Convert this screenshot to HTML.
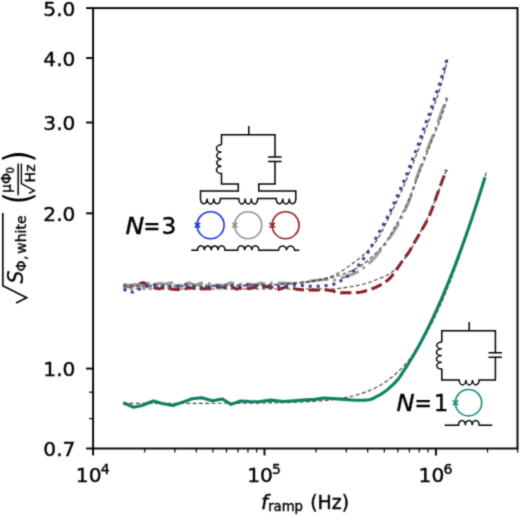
<!DOCTYPE html>
<html><head><meta charset="utf-8"><style>html,body{margin:0;padding:0;background:#fff;}svg{display:block;}</style></head>
<body><svg width="520" height="516" viewBox="0 0 520 516">
<defs><filter id="bl" filterUnits="userSpaceOnUse" x="0" y="0" width="520" height="516"><feConvolveMatrix order="3" kernelMatrix="1 4 1 4 16 4 1 4 1" divisor="36" edgeMode="duplicate"/></filter></defs>
<rect width="520" height="516" fill="#fff"/>
<g filter="url(#bl)">
<path d="M123.28,403.33 L126.31,403.33 L129.34,403.33 L132.37,403.33 L135.40,403.33 L138.43,403.33 L141.46,403.32 L144.48,403.32 L147.51,403.32 L150.54,403.32 L153.57,403.32 L156.60,403.32 L159.63,403.32 L162.66,403.32 L165.69,403.32 L168.72,403.32 L171.74,403.32 L174.77,403.31 L177.80,403.31 L180.83,403.31 L183.86,403.31 L186.89,403.31 L189.92,403.30 L192.95,403.30 L195.98,403.30 L199.00,403.29 L202.03,403.29 L205.06,403.28 L208.09,403.28 L211.12,403.27 L214.15,403.27 L217.18,403.26 L220.21,403.25 L223.24,403.24 L226.26,403.23 L229.29,403.22 L232.32,403.21 L235.35,403.20 L238.38,403.18 L241.41,403.17 L244.44,403.15 L247.47,403.13 L250.50,403.11 L253.52,403.08 L256.55,403.06 L259.58,403.03 L262.61,402.99 L265.64,402.96 L268.67,402.91 L271.70,402.87 L274.73,402.82 L277.76,402.76 L280.78,402.70 L283.81,402.63 L286.84,402.55 L289.87,402.47 L292.90,402.37 L295.93,402.27 L298.96,402.15 L301.99,402.02 L305.02,401.88 L308.04,401.72 L311.07,401.54 L314.10,401.35 L317.13,401.13 L320.16,400.89 L323.19,400.62 L326.22,400.33 L329.25,400.00 L332.28,399.64 L335.30,399.24 L338.33,398.80 L341.36,398.31 L344.39,397.77 L347.42,397.17 L350.45,396.51 L353.48,395.79 L356.51,394.98 L359.54,394.10 L362.56,393.13 L365.59,392.06 L368.62,390.88 L371.65,389.59 L374.68,388.17 L377.71,386.62 L380.74,384.92 L383.77,383.06 L386.80,381.03 L389.82,378.82 L392.85,376.42 L395.88,373.81 L398.91,370.99 L401.94,367.93 L404.97,364.63 L408.00,361.08 L411.03,357.26 L414.06,353.17 L417.08,348.79 L420.11,344.13 L423.14,339.17 L426.17,333.90 L429.20,328.33 L432.23,322.46 L435.26,316.28 L438.29,309.79 L441.32,303.01 L444.34,295.93 L447.37,288.55 L450.40,280.90 L453.43,272.97 L456.46,264.78 L459.49,256.34 L462.52,247.65 L465.55,238.74 L468.58,229.60 L471.60,220.27 L474.63,210.74 L477.66,201.03 L480.69,191.15 L483.72,181.12 L486.75,170.94" fill="none" stroke="#4d4545" stroke-width="1.2" stroke-dasharray="3.9 2.4" stroke-linejoin="round"/>
<path d="M123.10,402.80 L133.80,407.20 L141.90,405.50 L153.40,401.00 L162.10,403.50 L172.90,405.50 L185.00,401.40 L192.10,398.80 L201.50,397.70 L212.30,400.80 L222.40,399.00 L231.10,404.40 L240.60,401.00 L250.00,401.50 L258.50,401.70 L270.60,400.10 L282.70,401.50 L298.80,400.40 L315.00,399.40 L323.80,398.00 L341.10,399.10 L355.00,400.30 L355.00,400.30 L356.50,400.30 L358.00,400.30 L359.50,400.30 L361.00,400.30 L362.50,400.30 L364.00,400.24 L365.50,400.14 L367.00,400.00 L368.50,399.82 L370.00,399.55 L371.50,399.08 L373.00,398.45 L374.50,397.73 L376.00,396.96 L377.50,396.20 L379.00,395.40 L380.50,394.52 L382.00,393.57 L383.50,392.56 L385.00,391.50 L386.50,390.36 L388.00,389.13 L389.50,387.82 L391.00,386.45 L392.50,385.05 L394.00,383.60 L395.50,382.08 L397.00,380.46 L398.50,378.70 L400.00,376.68 L401.00,375.20 L402.50,372.67 L404.00,370.44 L405.50,368.17 L407.00,365.84 L408.50,363.47 L410.00,361.05 L411.50,358.57 L413.00,356.05 L414.50,353.48 L416.00,350.87 L417.50,348.20 L419.00,345.48 L420.50,342.72 L422.00,339.90 L423.50,337.04 L425.00,334.12 L426.50,331.16 L428.00,328.15 L429.50,325.09 L431.00,321.98 L432.50,318.82 L434.00,315.61 L435.50,312.35 L437.00,309.05 L438.50,305.69 L440.00,302.29 L441.50,298.84 L443.00,295.33 L444.50,291.78 L446.00,288.18 L447.50,284.53 L449.00,280.83 L450.50,277.08 L452.00,273.29 L453.50,269.44 L455.00,265.54 L456.50,261.60 L458.00,257.61 L459.50,253.56 L461.00,249.47 L462.50,245.33 L464.00,241.14 L465.50,236.90 L467.00,232.61 L468.50,228.28 L470.00,223.89 L471.50,219.45 L473.00,214.97 L474.50,210.44 L476.00,205.85 L477.50,201.22 L479.00,196.54 L480.50,191.81 L482.00,187.03 L483.50,182.20 L485.00,177.32" fill="none" stroke="#117f64" stroke-width="3.1" stroke-linejoin="round"/>
<path d="M123.50,285.00 L129.00,286.50 L135.00,285.00 L140.00,283.50 L143.50,282.70 L148.00,285.00 L153.00,287.50 L159.00,288.89 L165.00,287.16 L171.00,289.04 L177.00,289.49 L183.00,289.51 L189.00,287.85 L195.00,288.35 L201.00,288.88 L207.00,288.45 L213.00,288.71 L219.00,286.51 L225.00,287.36 L231.00,286.59 L237.00,289.14 L243.00,287.59 L249.00,288.58 L255.00,287.22 L261.00,287.51 L267.00,286.43 L273.00,287.55 L279.00,289.44 L285.00,287.10 L291.00,287.42 L297.00,289.34 L306.70,290.10 L308.20,290.10 L309.70,290.10 L311.20,290.10 L312.70,290.10 L314.20,290.10 L315.70,290.10 L317.20,290.10 L318.70,290.10 L320.20,290.10 L321.70,290.10 L323.20,290.10 L324.70,290.10 L326.20,290.10 L327.70,290.12 L329.20,290.28 L330.70,290.55 L332.20,290.91 L333.70,291.31 L335.20,291.73 L336.70,292.12 L338.20,292.45 L339.70,292.69 L341.20,292.80 L342.70,292.80 L344.20,292.79 L345.70,292.78 L347.20,292.77 L348.70,292.75 L350.20,292.73 L351.70,292.70 L353.20,292.68 L354.70,292.64 L356.20,292.61 L357.70,292.54 L359.20,292.38 L360.70,292.14 L362.20,291.82 L363.70,291.45 L365.20,291.02 L366.70,290.55 L368.20,290.06 L369.70,289.54 L371.20,289.02 L372.70,288.50 L374.20,287.95 L375.70,287.32 L377.20,286.64 L378.70,285.89 L380.20,285.08 L381.70,284.22 L383.20,283.32 L384.70,282.38 L386.20,281.34 L387.70,280.17 L389.20,278.86 L390.70,277.37 L392.20,275.59 L393.70,273.58 L395.20,271.45 L396.70,269.30 L398.20,267.18 L399.70,264.97 L401.20,262.73 L402.70,260.51 L404.20,258.39 L405.70,256.45 L407.20,254.55 L408.70,252.45 L410.20,249.94 L411.70,247.21 L413.20,244.60 L414.70,242.05 L416.20,239.52 L417.70,236.96 L419.20,234.35 L420.70,231.73 L422.20,229.16 L423.70,226.57 L425.20,223.91 L426.70,221.11 L428.20,218.12 L429.70,214.85 L431.20,211.18 L432.70,207.18 L434.20,202.97 L435.70,198.67 L437.20,194.40 L438.70,190.27 L440.20,186.27 L441.70,182.30 L443.20,178.34 L444.70,174.41 L446.20,170.48 L446.50,169.70" fill="none" stroke="#921622" stroke-width="3" stroke-dasharray="11.1 4.8" stroke-linejoin="round"/>
<path d="M123.50,284.60 L129.00,285.50 L135.00,284.50 L141.00,285.50 L147.00,283.03 L153.00,284.67 L159.00,283.34 L165.00,284.09 L171.00,282.64 L177.00,285.17 L183.00,285.12 L189.00,282.69 L195.00,285.28 L201.00,282.98 L207.00,283.39 L213.00,284.30 L219.00,285.24 L225.00,284.99 L231.00,282.61 L237.00,284.06 L243.00,284.15 L249.00,283.96 L255.00,284.75 L261.00,283.05 L267.00,284.74 L273.00,282.66 L279.00,282.98 L285.00,282.93 L291.00,283.47 L300.00,283.00 L301.50,282.69 L303.00,282.39 L304.50,282.10 L306.00,281.82 L307.50,281.56 L309.00,281.32 L310.50,281.09 L312.00,280.89 L313.50,280.70 L315.00,280.52 L316.50,280.33 L318.00,280.15 L319.50,279.98 L321.00,279.82 L322.50,279.69 L324.00,279.59 L325.50,279.52 L327.00,279.50 L328.50,279.56 L330.00,279.68 L331.50,279.82 L333.00,279.94 L334.50,280.00 L336.00,279.89 L337.50,279.55 L339.00,279.05 L340.50,278.46 L342.00,277.83 L343.50,277.22 L345.00,276.70 L346.50,276.21 L348.00,275.73 L349.50,275.25 L351.00,274.74 L352.50,274.20 L354.00,273.62 L355.50,272.97 L357.00,272.24 L358.50,271.36 L360.00,270.35 L361.50,269.24 L363.00,268.09 L364.50,266.92 L366.00,265.71 L367.50,264.45 L369.00,263.14 L370.50,261.76 L372.00,260.32 L373.50,258.81 L375.00,257.19 L376.50,255.41 L378.00,253.54 L379.50,251.63 L381.00,249.69 L382.50,247.71 L384.00,245.68 L385.50,243.60 L387.00,241.49 L388.50,239.34 L390.00,237.18 L391.50,235.01 L393.00,232.78 L394.50,230.47 L396.00,228.04 L397.50,225.47 L399.00,222.71 L400.50,219.77 L402.00,216.69 L403.50,213.51 L405.00,210.27 L406.50,206.97 L408.00,203.55 L409.50,199.93 L411.00,196.04 L412.50,191.63 L414.00,186.65 L415.50,181.55 L417.00,176.79 L418.50,172.55 L420.00,168.54 L421.50,164.65 L423.00,160.78 L424.50,156.88 L426.00,153.01 L427.50,149.18 L429.00,145.37 L430.50,141.60 L432.00,137.91 L433.50,134.22 L435.00,130.43 L436.50,126.44 L438.00,122.23 L439.50,117.90 L441.00,113.59 L442.50,109.40 L444.00,105.29 L445.50,101.24 L446.90,97.50" fill="none" stroke="#9c9c9c" stroke-width="3" stroke-dasharray="19.2 4.8 3 4.8" stroke-linejoin="round"/>
<path d="M123.50,290.00 L128.00,289.50 L132.80,292.30 L138.00,289.50 L143.00,288.00 L149.00,285.28 L155.00,284.76 L161.00,286.18 L167.00,287.02 L173.00,286.04 L179.00,286.25 L185.00,284.74 L191.00,286.26 L197.00,287.71 L203.00,287.42 L209.00,287.04 L215.00,285.05 L221.00,287.56 L227.00,287.44 L233.00,285.23 L239.00,286.72 L245.00,284.77 L251.00,285.07 L257.00,285.71 L263.00,285.21 L269.00,287.13 L275.00,287.32 L281.00,285.80 L287.00,285.72 L293.00,285.06 L299.00,284.97 L306.70,286.30 L308.20,286.30 L309.70,286.30 L311.20,286.30 L312.70,286.30 L314.20,286.30 L315.70,286.30 L317.20,286.28 L318.70,286.21 L320.20,286.09 L321.70,285.94 L323.20,285.79 L324.70,285.66 L326.20,285.54 L327.70,285.42 L329.20,285.27 L330.70,285.08 L332.20,284.78 L333.70,284.25 L335.20,283.57 L336.70,282.81 L338.20,282.05 L339.70,281.29 L341.20,280.46 L342.70,279.58 L344.20,278.63 L345.70,277.62 L347.20,276.51 L348.70,275.31 L350.20,274.03 L351.70,272.68 L353.20,271.22 L354.70,269.67 L356.20,268.03 L357.70,266.31 L359.20,264.47 L360.70,262.55 L362.20,260.59 L363.70,258.58 L365.20,256.48 L366.70,254.24 L368.20,251.84 L369.70,249.37 L371.20,246.85 L372.70,244.25 L374.20,241.58 L375.70,238.79 L377.20,235.94 L378.70,233.09 L380.20,230.32 L381.70,227.63 L383.20,224.97 L384.70,222.27 L386.20,219.49 L387.70,216.61 L389.20,213.65 L390.70,210.60 L392.20,207.43 L393.70,204.07 L395.20,200.62 L396.70,197.19 L398.20,193.90 L399.70,190.71 L401.20,187.47 L402.70,184.07 L404.20,180.48 L405.70,176.77 L407.20,173.01 L408.70,169.21 L410.20,165.36 L411.70,161.47 L413.20,157.57 L414.70,153.70 L416.20,149.90 L417.70,146.07 L419.20,142.10 L420.70,137.82 L422.20,133.24 L423.70,128.67 L425.20,124.41 L426.70,120.54 L428.20,116.82 L429.70,112.96 L431.20,108.74 L432.70,104.21 L434.20,99.60 L435.70,95.13 L437.20,90.88 L438.70,86.60 L440.20,81.99 L441.70,77.05 L443.20,72.00 L444.70,66.97 L446.20,61.89 L446.90,59.50" fill="none" stroke="#2f4095" stroke-width="3" stroke-dasharray="3 4.95" stroke-linejoin="round"/>
<path d="M123.00,287.00 L126.00,287.00 L129.00,286.99 L132.00,286.98 L135.00,286.98 L138.00,286.97 L141.00,286.95 L144.00,286.94 L147.00,286.92 L150.00,286.91 L153.00,286.89 L156.00,286.87 L159.00,286.85 L162.00,286.83 L165.00,286.81 L168.00,286.79 L171.00,286.76 L174.00,286.74 L177.00,286.71 L180.00,286.69 L183.00,286.66 L186.00,286.63 L189.00,286.60 L192.00,286.58 L195.00,286.55 L198.00,286.52 L201.00,286.49 L204.00,286.46 L207.00,286.43 L210.00,286.40 L213.00,286.37 L216.00,286.33 L219.00,286.30 L222.00,286.26 L225.00,286.22 L228.00,286.17 L231.00,286.13 L234.00,286.08 L237.00,286.03 L240.00,285.97 L243.00,285.91 L246.00,285.85 L249.00,285.78 L252.00,285.71 L255.00,285.64 L258.00,285.56 L261.00,285.47 L264.00,285.36 L267.00,285.23 L270.00,285.07 L273.00,284.90 L276.00,284.70 L279.00,284.48 L282.00,284.24 L285.00,283.99 L288.00,283.71 L291.00,283.43 L294.00,283.13 L297.00,282.82 L300.00,282.50 L303.00,282.16 L306.00,281.79 L309.00,281.38 L312.00,280.93 L315.00,280.43 L318.00,279.87 L321.00,279.26 L324.00,278.58 L327.00,277.83 L330.00,277.00 L333.00,275.89 L336.00,274.39 L339.00,272.68 L342.00,270.90 L345.00,268.99 L348.00,266.88 L351.00,264.67 L354.00,262.43 L357.00,260.15 L360.00,257.78 L363.00,255.25 L366.00,252.49 L369.00,249.59 L372.00,246.41 L375.00,242.80 L378.00,238.48 L381.00,233.11 L384.00,227.13 L387.00,221.09 L390.00,215.19 L393.00,209.17 L396.00,202.97 L399.00,196.57 L402.00,189.91 L405.00,183.01 L408.00,175.89 L411.00,168.56 L414.00,161.00 L417.00,153.22 L420.00,145.26 L423.00,137.14 L426.00,128.76 L429.00,120.22 L432.00,111.60 L435.00,103.20 L438.00,94.70 L441.00,85.30 L444.00,74.37 L447.00,62.08 L447.60,59.50" fill="none" stroke="#4d4545" stroke-width="1.2" stroke-dasharray="3.9 2.4" stroke-linejoin="round"/>
<path d="M123.00,285.00 L126.00,285.00 L129.00,285.00 L132.00,285.00 L135.00,285.00 L138.00,285.00 L141.00,285.00 L144.00,285.00 L147.00,285.00 L150.00,285.00 L153.00,285.00 L156.00,285.00 L159.00,285.00 L162.00,285.00 L165.00,285.00 L168.00,285.00 L171.00,285.00 L174.00,285.00 L177.00,285.00 L180.00,285.00 L183.00,285.00 L186.00,285.00 L189.00,285.00 L192.00,285.00 L195.00,285.00 L198.00,285.00 L201.00,285.00 L204.00,285.00 L207.00,285.00 L210.00,285.00 L213.00,285.00 L216.00,285.00 L219.00,285.00 L222.00,285.00 L225.00,285.00 L228.00,285.00 L231.00,285.00 L234.00,285.00 L237.00,285.00 L240.00,285.00 L243.00,285.00 L246.00,285.00 L249.00,285.00 L252.00,285.00 L255.00,284.97 L258.00,284.94 L261.00,284.88 L264.00,284.81 L267.00,284.72 L270.00,284.62 L273.00,284.51 L276.00,284.38 L279.00,284.24 L282.00,284.09 L285.00,283.93 L288.00,283.76 L291.00,283.58 L294.00,283.40 L297.00,283.20 L300.00,283.00 L303.00,282.75 L306.00,282.43 L309.00,282.04 L312.00,281.59 L315.00,281.08 L318.00,280.52 L321.00,279.93 L324.00,279.31 L327.00,278.66 L330.00,278.00 L333.00,277.26 L336.00,276.39 L339.00,275.44 L342.00,274.43 L345.00,273.37 L348.00,272.22 L351.00,270.97 L354.00,269.56 L357.00,267.97 L360.00,266.19 L363.00,264.22 L366.00,262.05 L369.00,259.53 L372.00,256.77 L375.00,253.87 L378.00,250.97 L381.00,248.02 L384.00,244.73 L387.00,240.75 L390.00,235.82 L393.00,230.42 L396.00,225.12 L399.00,219.93 L402.00,214.39 L405.00,208.14 L408.00,201.34 L411.00,194.17 L414.00,186.58 L417.00,178.82 L420.00,171.12 L423.00,163.35 L426.00,155.62 L429.00,147.92 L432.00,140.34 L435.00,132.89 L438.00,125.31 L441.00,117.70 L444.00,109.17 L447.00,98.95 L447.40,97.50" fill="none" stroke="#4d4545" stroke-width="1.2" stroke-dasharray="3.9 2.4" stroke-linejoin="round"/>
<path d="M123.00,289.00 L126.00,289.00 L129.00,289.00 L132.00,289.00 L135.00,289.00 L138.00,289.00 L141.00,289.00 L144.00,289.00 L147.00,289.00 L150.00,289.00 L153.00,289.00 L156.00,289.00 L159.00,289.00 L162.00,289.00 L165.00,289.00 L168.00,289.00 L171.00,289.00 L174.00,289.00 L177.00,289.00 L180.00,289.00 L183.00,289.00 L186.00,289.00 L189.00,289.00 L192.00,289.00 L195.00,289.00 L198.00,289.00 L201.00,289.00 L204.00,289.00 L207.00,289.00 L210.00,289.00 L213.00,289.00 L216.00,289.00 L219.00,289.00 L222.00,289.00 L225.00,289.00 L228.00,289.00 L231.00,289.00 L234.00,289.00 L237.00,289.00 L240.00,289.00 L243.00,289.00 L246.00,289.00 L249.00,289.00 L252.00,289.00 L255.00,289.00 L258.00,289.00 L261.00,289.00 L264.00,289.00 L267.00,289.00 L270.00,289.00 L273.00,289.00 L276.00,289.00 L279.00,289.00 L282.00,289.00 L285.00,289.00 L288.00,289.00 L291.00,289.00 L294.00,289.00 L297.00,289.00 L300.00,289.00 L303.00,289.00 L306.00,289.00 L309.00,289.00 L312.00,289.00 L315.00,289.00 L318.00,289.00 L321.00,289.00 L324.00,289.00 L327.00,289.00 L330.00,289.00 L333.00,288.92 L336.00,288.71 L339.00,288.40 L342.00,288.02 L345.00,287.61 L348.00,287.21 L351.00,286.75 L354.00,286.21 L357.00,285.61 L360.00,284.94 L363.00,284.21 L366.00,283.42 L369.00,282.48 L372.00,281.41 L375.00,280.27 L378.00,279.10 L381.00,277.93 L384.00,276.66 L387.00,275.22 L390.00,273.50 L393.00,271.28 L396.00,268.49 L399.00,265.28 L402.00,261.79 L405.00,258.12 L408.00,253.95 L411.00,249.29 L414.00,244.18 L417.00,238.47 L420.00,232.74 L423.00,227.15 L426.00,221.41 L429.00,215.22 L432.00,208.33 L435.00,200.87 L438.00,193.09 L441.00,185.14 L444.00,176.84 L446.50,169.70" fill="none" stroke="#4d4545" stroke-width="1.2" stroke-dasharray="3.9 2.4" stroke-linejoin="round"/>
<g stroke="#000" stroke-width="1.9" fill="none" stroke-linecap="square">
<rect x="93.1" y="8.1" width="424.4" height="440.4" stroke-linecap="butt"/>
<line x1="86.1" y1="8.10" x2="93.1" y2="8.10" stroke-linecap="butt"/>
<line x1="86.1" y1="58.08" x2="93.1" y2="58.08" stroke-linecap="butt"/>
<line x1="86.1" y1="122.52" x2="93.1" y2="122.52" stroke-linecap="butt"/>
<line x1="86.1" y1="213.34" x2="93.1" y2="213.34" stroke-linecap="butt"/>
<line x1="86.1" y1="368.61" x2="93.1" y2="368.61" stroke-linecap="butt"/>
<line x1="86.1" y1="448.50" x2="93.1" y2="448.50" stroke-linecap="butt"/>
<line x1="89.1" y1="392.21" x2="93.1" y2="392.21" stroke-width="1.2" stroke-linecap="butt"/>
<line x1="89.1" y1="418.59" x2="93.1" y2="418.59" stroke-width="1.2" stroke-linecap="butt"/>
<line x1="93.10" y1="448.5" x2="93.10" y2="455.5" stroke-linecap="butt"/>
<line x1="264.50" y1="448.5" x2="264.50" y2="455.5" stroke-linecap="butt"/>
<line x1="435.90" y1="448.5" x2="435.90" y2="455.5" stroke-linecap="butt"/>
<line x1="144.70" y1="448.5" x2="144.70" y2="452.5" stroke-width="1.2" stroke-linecap="butt"/>
<line x1="174.88" y1="448.5" x2="174.88" y2="452.5" stroke-width="1.2" stroke-linecap="butt"/>
<line x1="196.29" y1="448.5" x2="196.29" y2="452.5" stroke-width="1.2" stroke-linecap="butt"/>
<line x1="212.90" y1="448.5" x2="212.90" y2="452.5" stroke-width="1.2" stroke-linecap="butt"/>
<line x1="226.48" y1="448.5" x2="226.48" y2="452.5" stroke-width="1.2" stroke-linecap="butt"/>
<line x1="237.95" y1="448.5" x2="237.95" y2="452.5" stroke-width="1.2" stroke-linecap="butt"/>
<line x1="247.89" y1="448.5" x2="247.89" y2="452.5" stroke-width="1.2" stroke-linecap="butt"/>
<line x1="256.66" y1="448.5" x2="256.66" y2="452.5" stroke-width="1.2" stroke-linecap="butt"/>
<line x1="316.10" y1="448.5" x2="316.10" y2="452.5" stroke-width="1.2" stroke-linecap="butt"/>
<line x1="346.28" y1="448.5" x2="346.28" y2="452.5" stroke-width="1.2" stroke-linecap="butt"/>
<line x1="367.69" y1="448.5" x2="367.69" y2="452.5" stroke-width="1.2" stroke-linecap="butt"/>
<line x1="384.30" y1="448.5" x2="384.30" y2="452.5" stroke-width="1.2" stroke-linecap="butt"/>
<line x1="397.88" y1="448.5" x2="397.88" y2="452.5" stroke-width="1.2" stroke-linecap="butt"/>
<line x1="409.35" y1="448.5" x2="409.35" y2="452.5" stroke-width="1.2" stroke-linecap="butt"/>
<line x1="419.29" y1="448.5" x2="419.29" y2="452.5" stroke-width="1.2" stroke-linecap="butt"/>
<line x1="428.06" y1="448.5" x2="428.06" y2="452.5" stroke-width="1.2" stroke-linecap="butt"/>
<line x1="487.50" y1="448.5" x2="487.50" y2="452.5" stroke-width="1.2" stroke-linecap="butt"/>
<line x1="517.68" y1="448.5" x2="517.68" y2="452.5" stroke-width="1.2" stroke-linecap="butt"/>
</g>
<g font-family="DejaVu Sans, Liberation Sans, sans-serif" font-size="20.2" fill="#000" stroke="#000" stroke-width="0.4" text-anchor="end">
<text x="75.4" y="15.60">5.0</text>
<text x="75.4" y="65.58">4.0</text>
<text x="75.4" y="130.02">3.0</text>
<text x="75.4" y="220.84">2.0</text>
<text x="75.4" y="376.11">1.0</text>
<text x="75.4" y="456.00">0.7</text>
</g>
<text font-family="DejaVu Sans, Liberation Sans, sans-serif" font-size="20.2" stroke="#000" stroke-width="0.4" x="75.80" y="481.6">10<tspan font-size="14" dx="-0.8" dy="-7.4">4</tspan></text>
<text font-family="DejaVu Sans, Liberation Sans, sans-serif" font-size="20.2" stroke="#000" stroke-width="0.4" x="247.20" y="481.6">10<tspan font-size="14" dx="-0.8" dy="-7.4">5</tspan></text>
<text font-family="DejaVu Sans, Liberation Sans, sans-serif" font-size="20.2" stroke="#000" stroke-width="0.4" x="418.60" y="481.6">10<tspan font-size="14" dx="-0.8" dy="-7.4">6</tspan></text>
<text font-family="DejaVu Sans, Liberation Sans, sans-serif" stroke="#000" stroke-width="0.45" font-size="20" x="261" y="508.7" font-style="italic">f</text>
<text font-family="DejaVu Sans, Liberation Sans, sans-serif" stroke="#000" stroke-width="0.45" font-size="14.5" x="268.2" y="510.6" textLength="34.8" lengthAdjust="spacingAndGlyphs">ramp</text>
<text font-family="DejaVu Sans, Liberation Sans, sans-serif" stroke="#000" stroke-width="0.45" font-size="20" x="310.2" y="508.7" textLength="39.0" lengthAdjust="spacingAndGlyphs">(Hz)</text>
<g fill="none" stroke="#000" stroke-width="1.5" stroke-linejoin="miter">
<path d="M248.8,125.9 V134.7"/>
<path d="M221.5,144.8 V134.7 H275 V156.9"/>
<path d="M268.1,156.9 H281.6 M268.1,161.6 H281.6"/>
<path d="M275,161.6 V184 H258.8 V191 H295.8 V198.5 A3.27,5.50 0 0 1 289.27,198.50 A3.27,5.50 0 0 1 282.73,198.50 A3.27,5.50 0 0 1 276.20,198.50 H257.7 A3.15,5.50 0 0 1 251.40,198.50 A3.15,5.50 0 0 1 245.10,198.50 A3.15,5.50 0 0 1 238.80,198.50 H220.4 A3.32,5.50 0 0 1 213.77,198.50 A3.32,5.50 0 0 1 207.13,198.50 A3.32,5.50 0 0 1 200.50,198.50 V191 H238.3 V184 H221.5 V173.5 A5.00,3.59 0 0 1 221.50,166.32 A5.00,3.59 0 0 1 221.50,159.15 A5.00,3.59 0 0 1 221.50,151.98 A5.00,3.59 0 0 1 221.50,144.80"/>
<path d="M191.2,250.3 H197.5 A3.44,4.60 0 0 1 204.38,250.30 A3.44,4.60 0 0 1 211.25,250.30 A3.44,4.60 0 0 1 218.12,250.30 A3.44,4.60 0 0 1 225.00,250.30 H237.6 A3.55,4.60 0 0 1 244.70,250.30 A3.55,4.60 0 0 1 251.80,250.30 A3.55,4.60 0 0 1 258.90,250.30 H278.5 A4.03,4.60 0 0 1 286.55,250.30 A4.03,4.60 0 0 1 294.60,250.30 H299.3"/>
<path d="M469.2,321.9 V330.8"/>
<path d="M441.8,342 V330.8 H495.4 V352.7"/>
<path d="M488.5,352.7 H502 M488.5,357.3 H502"/>
<path d="M495.4,357.3 V379.9 H479.2 A3.33,5.00 0 0 1 472.53,379.90 A3.33,5.00 0 0 1 465.87,379.90 A3.33,5.00 0 0 1 459.20,379.90 H441.8 V369.1 A5.30,3.39 0 0 1 441.80,362.33 A5.30,3.39 0 0 1 441.80,355.55 A5.30,3.39 0 0 1 441.80,348.77 A5.30,3.39 0 0 1 441.80,342.00"/>
<path d="M444.6,425.2 H458.5 A3.45,4.80 0 0 1 465.40,425.20 A3.45,4.80 0 0 1 472.30,425.20 A3.45,4.80 0 0 1 479.20,425.20 H492.3"/>
</g>
<circle cx="210.6" cy="225.2" r="13.5" fill="none" stroke="#1f36d8" stroke-width="1.6"/><path d="M194.8,222.79999999999998 L200.0,227.6 M194.8,227.6 L200.0,222.79999999999998" stroke="#1f36d8" stroke-width="1.8" fill="none"/>
<circle cx="248.2" cy="225.2" r="13.5" fill="none" stroke="#929292" stroke-width="1.6"/><path d="M232.20000000000002,222.79999999999998 L237.4,227.6 M232.20000000000002,227.6 L237.4,222.79999999999998" stroke="#929292" stroke-width="1.8" fill="none"/>
<circle cx="285.6" cy="225.2" r="13.5" fill="none" stroke="#982226" stroke-width="1.6"/><path d="M269.59999999999997,222.79999999999998 L274.8,227.6 M269.59999999999997,227.6 L274.8,222.79999999999998" stroke="#982226" stroke-width="1.8" fill="none"/>
<circle cx="468.5" cy="402.7" r="13.2" fill="none" stroke="#1f8c7c" stroke-width="1.6"/><path d="M452.79999999999995,400.3 L458.0,405.09999999999997 M452.79999999999995,405.09999999999997 L458.0,400.3" stroke="#1f8c7c" stroke-width="1.8" fill="none"/>
<text font-family="DejaVu Sans, sans-serif" font-size="23.3" stroke="#000" stroke-width="0.4" font-style="italic" transform="translate(125.4,234.2) scale(1.08,1)">N</text>
<text font-family="DejaVu Sans, sans-serif" font-size="23.3" stroke="#000" stroke-width="0.4" transform="translate(143.5,234.2) scale(0.86,1)">=</text>
<text font-family="DejaVu Sans, sans-serif" font-size="23.3" stroke="#000" stroke-width="0.4" transform="translate(161.5,234.2) scale(1.0,1)">3</text>
<text font-family="DejaVu Sans, sans-serif" font-size="23.3" stroke="#000" stroke-width="0.4" font-style="italic" transform="translate(396.4,411.0) scale(1.04,1)">N</text>
<text font-family="DejaVu Sans, sans-serif" font-size="23.3" stroke="#000" stroke-width="0.4" transform="translate(414.6,411.0) scale(0.89,1)">=</text>
<text font-family="DejaVu Sans, sans-serif" font-size="23.3" stroke="#000" stroke-width="0.4" transform="translate(433.8,411.0) scale(0.98,1)">1</text>
<text font-family="DejaVu Sans, sans-serif" stroke="#000" stroke-width="0.35" font-size="20.5" font-style="italic" transform="translate(22.6,283.4) rotate(-90)">S</text>
<text font-family="DejaVu Sans, sans-serif" stroke="#000" stroke-width="0.35" font-size="14" transform="translate(25.8,271.6) rotate(-90)">Φ</text>
<text font-family="DejaVu Sans, sans-serif" stroke="#000" stroke-width="0.35" font-size="14" transform="translate(25.8,260.0) rotate(-90)">,</text>
<text font-family="DejaVu Sans, sans-serif" stroke="#000" stroke-width="0.35" font-size="14" transform="translate(25.8,253.8) rotate(-90)">white</text>
<path d="M16.0,303.0 L26.7,297.8 L2.8,285.75 V213.1" fill="none" stroke="#000" stroke-width="1.6" stroke-linejoin="miter"/>
<text font-family="DejaVu Sans, sans-serif" font-size="31" transform="translate(30.3,204.3) rotate(-90) scale(1,1.23)">(</text>
<text font-family="DejaVu Sans, sans-serif" font-size="31" transform="translate(30.3,162.6) rotate(-90) scale(1,1.23)">)</text>
<path d="M18.2,163.4 V195.3" stroke="#000" stroke-width="1.5"/>
<text font-family="DejaVu Sans, sans-serif" stroke="#000" stroke-width="0.35" font-size="14" transform="translate(11.2,193) rotate(-90)">μΦ</text>
<text font-family="DejaVu Sans, sans-serif" stroke="#000" stroke-width="0.35" font-size="10" transform="translate(14.2,173.5) rotate(-90)">0</text>
<path d="M28.8,193.3 L34.4,190.6 L21.4,183.6 V163.4" fill="none" stroke="#000" stroke-width="1.4"/>
<text font-family="DejaVu Sans, sans-serif" stroke="#000" stroke-width="0.35" font-size="14" transform="translate(34.8,182.4) rotate(-90)">Hz</text>
</g>
</svg></body></html>
